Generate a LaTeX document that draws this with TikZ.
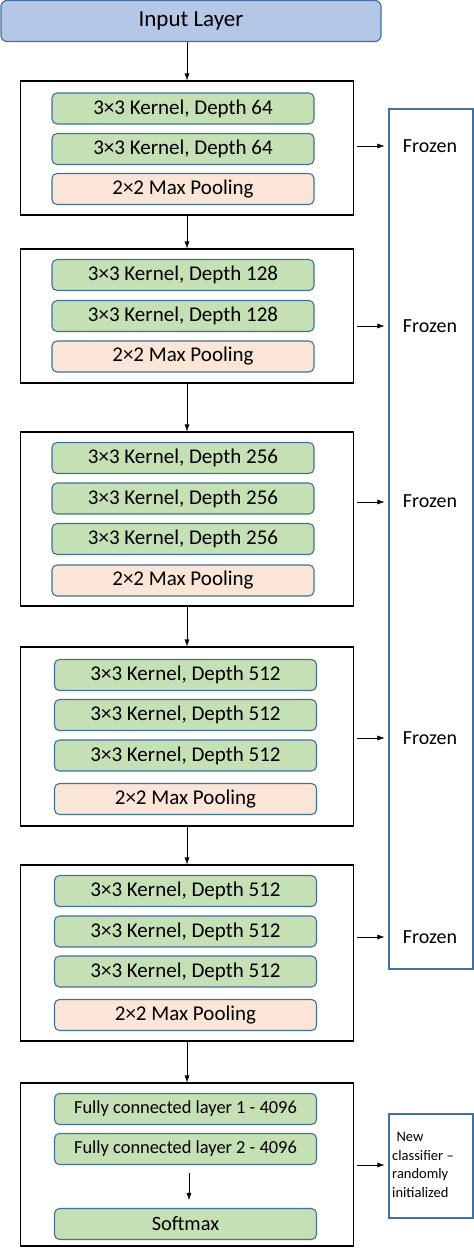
\documentclass[tikz,border=0pt]{standalone}
\usepackage{fontspec}
\setmainfont{Carlito}
\usetikzlibrary{arrows.meta}

\definecolor{inputblue}{HTML}{B4C7E7}
\definecolor{edgeblue}{HTML}{41719C}
\definecolor{convgreen}{HTML}{C5E0B4}
\definecolor{poolpeach}{HTML}{FBE5D6}

\begin{document}
\begin{tikzpicture}[
	x=1pt, y=-1pt,
	>={Latex[length=7pt,width=5pt]},
	block/.style={rectangle, draw=black, line width=1.4pt, fill=white, minimum width=333pt},
	conv/.style={rectangle, rounded corners=5pt, draw=edgeblue, line width=1.1pt, fill=convgreen, minimum width=262pt, minimum height=31pt, inner sep=2pt, font=\fontsize{21}{24}\selectfont},
	pool/.style={conv, fill=poolpeach},
	dense/.style={conv, font=\fontsize{18.4}{22}\selectfont},
	side/.style={rectangle, draw=edgeblue, line width=1.2pt, fill=white, minimum width=84pt},
	]
	\useasboundingbox (0,0) rectangle (474,1248);

	\node[rectangle, rounded corners=6pt, draw=edgeblue, line width=1.2pt, fill=inputblue, minimum width=380pt, minimum height=41pt, font=\fontsize{23}{26}\selectfont] at (191, 21) (input) {Input Layer};

	\node[block, minimum height=134pt] at (187, 148) (block1) {};
	\node[conv] at (183, 108.5) (c11) {3×3 Kernel, Depth 64};
	\node[conv] at (183, 149) (c12) {3×3 Kernel, Depth 64};
	\node[pool] at (183, 189) (p1) {2×2 Max Pooling};

	\node[block, minimum height=134pt] at (187, 316) (block2) {};
	\node[conv] at (183, 275) (c21) {3×3 Kernel, Depth 128};
	\node[conv] at (183, 316) (c22) {3×3 Kernel, Depth 128};
	\node[pool] at (183, 356.5) (p2) {2×2 Max Pooling};

	\node[block, minimum height=174pt] at (187, 519) (block3) {};
	\node[conv] at (183, 458) (c31) {3×3 Kernel, Depth 256};
	\node[conv] at (183, 498.5) (c32) {3×3 Kernel, Depth 256};
	\node[conv] at (183, 539) (c33) {3×3 Kernel, Depth 256};
	\node[pool] at (183, 580.5) (p3) {2×2 Max Pooling};

	\node[block, minimum height=179pt] at (187, 736.5) (block4) {};
	\node[conv] at (185.5, 675) (c41) {3×3 Kernel, Depth 512};
	\node[conv] at (185.5, 715) (c42) {3×3 Kernel, Depth 512};
	\node[conv] at (185.5, 755.5) (c43) {3×3 Kernel, Depth 512};
	\node[pool] at (185.5, 799) (p4) {2×2 Max Pooling};

	\node[block, minimum height=176pt] at (187, 953) (block5) {};
	\node[conv] at (185.5, 891) (c51) {3×3 Kernel, Depth 512};
	\node[conv] at (185.5, 931.5) (c52) {3×3 Kernel, Depth 512};
	\node[conv] at (185.5, 971.5) (c53) {3×3 Kernel, Depth 512};
	\node[pool] at (185.5, 1015) (p5) {2×2 Max Pooling};

	\node[block, minimum height=163pt] at (187, 1164.5) (block6) {};
	\node[dense] at (185.5, 1109) (fc1) {Fully connected layer 1 - 4096};
	\node[dense] at (185.5, 1149) (fc2) {Fully connected layer 2 - 4096};
	\node[conv, font=\fontsize{20.4}{24}\selectfont] at (185.5, 1224) (softmax) {Softmax};

	% frozen and new parts
	\node[side, minimum height=860pt] at (431, 539) (frozen) {};
	\node[font=\fontsize{20}{24}\selectfont] at (430, 146) (fz1) {Frozen};
	\node[font=\fontsize{20}{24}\selectfont] at (430, 326) (fz2) {Frozen};
	\node[font=\fontsize{20}{24}\selectfont] at (430, 501) (fz3) {Frozen};
	\node[font=\fontsize{20}{24}\selectfont] at (430, 738) (fz4) {Frozen};
	\node[font=\fontsize{20}{24}\selectfont] at (430, 937) (fz5) {Frozen};

	\node[side, minimum height=104pt] at (431, 1166) (classifier) {};
	\node[align=left, font=\fontsize{14.5}{18.5}\selectfont] at (423, 1165) (newcls) {\hspace{0.3em}New\\classifier --\\randomly\\initialized};

	\draw[->] (input.south -| block1.north) to (block1.north);
	\draw[->] (block1) to (block2);
	\draw[->] (block2) to (block3);
	\draw[->] (block3) to (block4);
	\draw[->] (block4) to (block5);
	\draw[->] (block5) to (block6);
	\draw[->, shorten <=8pt, shorten >=8pt] (fc2.south -| 189, 0) to (softmax.north -| 189, 0);

	\coordinate (a1) at (357, 146);
	\coordinate (a2) at (357, 326);
	\coordinate (a3) at (357, 502);
	\coordinate (a4) at (357, 738);
	\coordinate (a5) at (357, 937);
	\coordinate (a6) at (357, 1165);
	\draw[->, shorten >=4pt] (a1) to (a1 -| frozen.west);
	\draw[->, shorten >=4pt] (a2) to (a2 -| frozen.west);
	\draw[->, shorten >=4pt] (a3) to (a3 -| frozen.west);
	\draw[->, shorten >=4pt] (a4) to (a4 -| frozen.west);
	\draw[->, shorten >=4pt] (a5) to (a5 -| frozen.west);
	\draw[->, shorten >=4pt] (a6) to (a6 -| classifier.west);
\end{tikzpicture}
\end{document}
